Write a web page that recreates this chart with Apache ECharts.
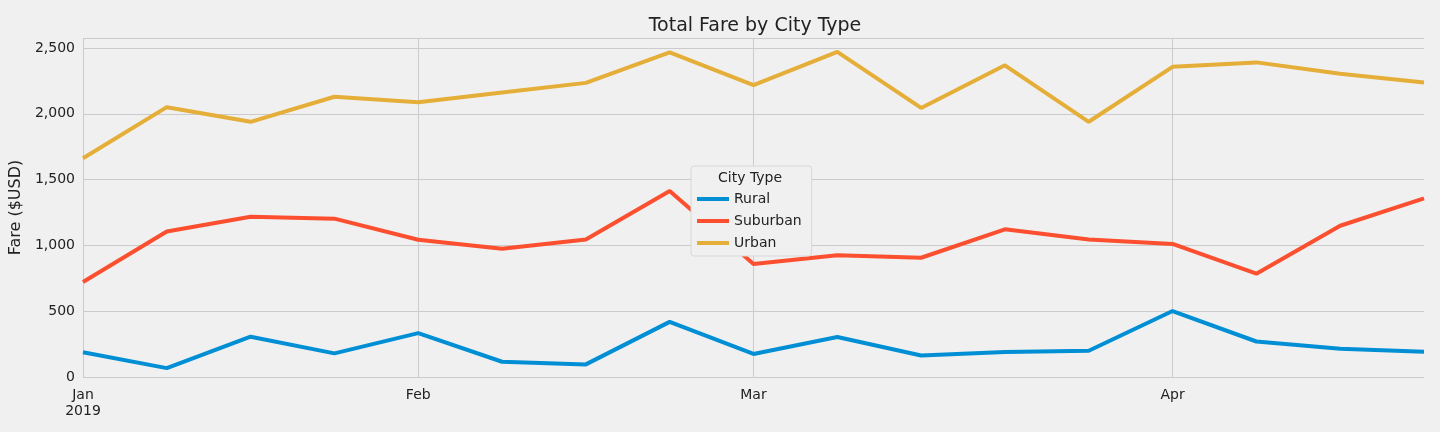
<!DOCTYPE html>
<html><head><meta charset="utf-8">
<script src="https://cdn.jsdelivr.net/npm/echarts@6/dist/echarts.min.js"></script>
<style>html,body{margin:0;background:#f0f0f0}#c{width:1440px;height:432px}</style>
</head><body><div id="c"></div>
<script>
const categories = ["2019-01-06","2019-01-13","2019-01-20","2019-01-27","2019-02-03","2019-02-10","2019-02-17","2019-02-24","2019-03-03","2019-03-10","2019-03-17","2019-03-24","2019-03-31","2019-04-07","2019-04-14","2019-04-21","2019-04-28"];
const monthLabels = {0:"Jan\n2019",4:"Feb",8:"Mar",13:"Apr"};
const rural = [187.92,67.65,306,179.36,333.08,115.8,95.82,419.06,175.14,303.94,163.39,189.76,199.42,501.24,269.79,214.14,191.85];
const suburban = [721.6,1105.13,1218.2,1203.28,1042.79,974.34,1045.5,1412.74,858.46,925.27,906.2,1122.2,1045.06,1010.73,784.82,1149.27,1357.75];
const urban = [1661.68,2050.43,1939.02,2129.51,2086.94,2162.64,2235.07,2466.29,2218.2,2470.93,2044.42,2368.37,1939.27,2356.7,2390.72,2303.8,2238.29];
const ch = echarts.init(document.getElementById('c'));
const F = 'DejaVu Sans';
const mk = (name, data, color) => ({name, type:'line', data, symbol:'none', lineStyle:{width:4, color}, itemStyle:{color}});
ch.setOption({
  backgroundColor:'#f0f0f0',
  textStyle:{fontFamily:F},
  title:{text:'Total Fare by City Type', left:750, top:12, textAlign:'center', textStyle:{fontFamily:F, fontSize:19, fontWeight:'normal', color:'#222'}},
  grid:{left:78, right:16, top:38, bottom:55},
  legend:{orient:'vertical', left:691, top:166, width:118, padding:[26,10,6,6], backgroundColor:'#f0f0f0', borderColor:'#d8d8d8', borderWidth:1, borderRadius:3, itemWidth:32, itemHeight:4, itemGap:8, icon:'rect', textStyle:{fontFamily:F, fontSize:14, color:'#222'}},
  graphic:[{type:'text', left:718, top:171, z:100, style:{text:'City Type', font:'14px DejaVu Sans', fill:'#222'}}],
  xAxis:{type:'category', data:categories, boundaryGap:false,
    axisLine:{show:false}, axisTick:{show:false},
    axisLabel:{interval:(i)=>i in monthLabels, formatter:(v,i)=>monthLabels[i]||'', fontSize:14, color:'#222', fontFamily:F, margin:10, lineHeight:16},
    splitLine:{show:true, interval:(i)=>i in monthLabels, lineStyle:{color:'#cbcbcb', width:1}}},
  yAxis:{type:'value', min:0, max:2576, interval:500, name:'Fare ($USD)', nameLocation:'middle', nameGap:50, nameTextStyle:{fontSize:16, color:'#222', fontFamily:F},
    axisLine:{show:false}, axisTick:{show:false},
    axisLabel:{fontSize:14, color:'#222', fontFamily:F, showMaxLabel:false},
    splitLine:{lineStyle:{color:'#cbcbcb', width:1}}},
  series:[mk('Rural', rural, '#008fd5'), mk('Suburban', suburban, '#fc4f30'), mk('Urban', urban, '#e5ae38')]
});
</script></body></html>
